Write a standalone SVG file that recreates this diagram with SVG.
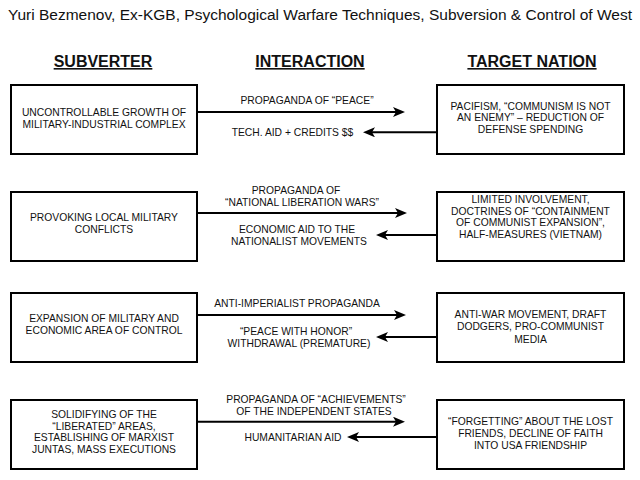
<svg xmlns="http://www.w3.org/2000/svg" width="640" height="480" viewBox="0 0 640 480">
<style>
.bg{fill:#fff}
.box{fill:#fff;stroke:#000;stroke-width:2}
.t{font-family:"Liberation Sans",Arial,sans-serif;font-size:10.3px;fill:#111;text-anchor:middle}
.title{font-family:"Liberation Sans",Arial,sans-serif;font-size:15.5px;fill:#111;text-anchor:middle}
.hd{font-family:"Liberation Sans",Arial,sans-serif;font-size:16px;font-weight:bold;fill:#111;text-anchor:middle;text-decoration:underline}
.arr{stroke:#000;stroke-width:2;fill:none;marker-end:url(#ah)}
</style>
<defs>
<marker id="ah" markerUnits="userSpaceOnUse" markerWidth="13" markerHeight="11" refX="6" refY="5" orient="auto">
<path d="M0,0 L12,5 L0,10 L3,5 Z" fill="#000"/>
</marker>
</defs>
<rect class="bg" x="0" y="0" width="640" height="480"/>
<g id="title">
<text class="title" x="320" y="20">Yuri Bezmenov, Ex-KGB, Psychological Warfare Techniques, Subversion &amp; Control of West</text>
</g>
<g id="headers">
<text class="hd" x="103" y="67">SUBVERTER</text>
<text class="hd" x="310" y="67">INTERACTION</text>
<text class="hd" x="532" y="67">TARGET NATION</text>
</g>

<g id="s1">
<rect class="box" x="11" y="85" width="186" height="69"/>
<text class="t" x="104" y="115.7">UNCONTROLLABLE GROWTH OF</text>
<text class="t" x="104" y="127.7">MILITARY-INDUSTRIAL COMPLEX</text>
</g>
<g id="t1">
<rect class="box" x="437" y="85" width="187" height="69"/>
<text class="t" x="530.5" y="109.5">PACIFISM, “COMMUNISM IS NOT</text>
<text class="t" x="530.5" y="121.2">AN ENEMY” – REDUCTION OF</text>
<text class="t" x="530.5" y="133">DEFENSE SPENDING</text>
</g>

<g id="s2">
<rect class="box" x="11" y="192" width="186" height="69"/>
<text class="t" x="104" y="220.7">PROVOKING LOCAL MILITARY</text>
<text class="t" x="104" y="233">CONFLICTS</text>
</g>
<g id="t2">
<rect class="box" x="437" y="192" width="187" height="69"/>
<text class="t" x="530.5" y="203.2">LIMITED INVOLVEMENT,</text>
<text class="t" x="530.5" y="214.7">DOCTRINES OF “CONTAINMENT</text>
<text class="t" x="530.5" y="226.2">OF COMMUNIST EXPANSION”,</text>
<text class="t" x="530.5" y="237.7">HALF-MEASURES (VIETNAM)</text>
</g>

<g id="s3">
<rect class="box" x="11" y="293" width="186" height="69"/>
<text class="t" x="104" y="321.7">EXPANSION OF MILITARY AND</text>
<text class="t" x="104" y="333.7">ECONOMIC AREA OF CONTROL</text>
</g>
<g id="t3">
<rect class="box" x="437" y="293" width="187" height="69"/>
<text class="t" x="530.5" y="317.7">ANTI-WAR MOVEMENT, DRAFT</text>
<text class="t" x="530.5" y="330.2">DODGERS, PRO-COMMUNIST</text>
<text class="t" x="530.5" y="342.7">MEDIA</text>
</g>

<g id="s4">
<rect class="box" x="11" y="400" width="186" height="69"/>
<text class="t" x="104" y="418">SOLIDIFYING OF THE</text>
<text class="t" x="104" y="429.5">“LIBERATED” AREAS,</text>
<text class="t" x="104" y="441">ESTABLISHING OF MARXIST</text>
<text class="t" x="104" y="452.7">JUNTAS, MASS EXECUTIONS</text>
</g>
<g id="t4">
<rect class="box" x="437" y="400" width="187" height="69"/>
<text class="t" x="530.5" y="425.4">“FORGETTING” ABOUT THE LOST</text>
<text class="t" x="530.5" y="436.9">FRIENDS, DECLINE OF FAITH</text>
<text class="t" x="530.5" y="448.6">INTO USA FRIENDSHIP</text>
</g>

<g id="connectors">
<line class="arr" x1="198" y1="112" x2="399" y2="112"/>
<line class="arr" x1="436" y1="132.3" x2="369" y2="132.3"/>
<line class="arr" x1="198" y1="213" x2="401" y2="213"/>
<line class="arr" x1="436" y1="235" x2="382" y2="235"/>
<line class="arr" x1="198" y1="315" x2="400" y2="315"/>
<line class="arr" x1="436" y1="337" x2="382" y2="337"/>
<line class="arr" x1="198" y1="421.7" x2="399" y2="421.7"/>
<line class="arr" x1="436" y1="437" x2="353" y2="437"/>
</g>

<g id="connector-labels">
<text class="t" x="307" y="104.4">PROPAGANDA OF “PEACE”</text>
<text class="t" x="292.5" y="136">TECH. AID + CREDITS $$</text>
<text class="t" x="296" y="194.3">PROPAGANDA OF</text>
<text class="t" x="302" y="205.7">“NATIONAL LIBERATION WARS”</text>
<text class="t" x="297" y="232.7">ECONOMIC AID TO THE</text>
<text class="t" x="299" y="244.7">NATIONALIST MOVEMENTS</text>
<text class="t" x="297" y="306.7">ANTI-IMPERIALIST PROPAGANDA</text>
<text class="t" x="296" y="335.2">“PEACE WITH HONOR”</text>
<text class="t" x="299" y="346.7">WITHDRAWAL (PREMATURE)</text>
<text class="t" x="316" y="402.7">PROPAGANDA OF “ACHIEVEMENTS”</text>
<text class="t" x="314" y="415.4">OF THE INDEPENDENT STATES</text>
<text class="t" x="293" y="440.7">HUMANITARIAN AID</text>
</g>
</svg>
